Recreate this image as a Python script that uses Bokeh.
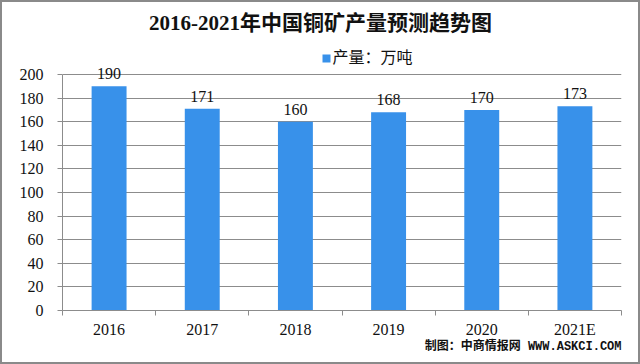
import numpy as np
from bokeh.plotting import figure
from bokeh.models import (ColumnDataSource, Range1d, FixedTicker, Title, Label, BoxAnnotation, LabelSet)
from bokeh.embed import file_html
from bokeh.resources import INLINE

years = ["2016", "2017", "2018", "2019", "2020", "2021E"]
output = [190, 171, 160, 168, 170, 173]
y_ticks = [0, 20, 40, 60, 80, 100, 120, 140, 160, 180, 200]

title_text = "2016-2021年中国铜矿产量预测趋势图"
legend_text = "产量：万吨"
source_text = "制图：中商情报网 WWW.ASKCI.COM"

BLUE = "#3891EA"
GRID = "#8c8c8c"
SERIF = "'Liberation Serif', 'Noto Sans CJK SC'"
CJK = "'Liberation Serif', 'Noto Sans CJK SC'"

W, H = 640, 364
# page coordinates of the plot area
PL, PR, PB, PT = 62, 621, 310, 74
YMAX = y_ticks[-1]
y_top = YMAX * PB / (PB - PT)           # frame reaches top of canvas


def sx(x):   # page x -> frame screen x
    return x - PL


def sy(y):   # page y -> frame screen y
    return PB - y


n = len(years)
xc = np.arange(n) + 0.5
src = ColumnDataSource(dict(x=xc, y=output, lab=[str(v) for v in output]))

p = figure(width=W, height=H, output_backend="svg", toolbar_location=None, title=None,
           x_range=Range1d(0, n), y_range=Range1d(0, y_top),
           min_border_left=PL, min_border_right=W - PR, min_border_top=0, min_border_bottom=H - PB)
p.outline_line_color = None
p.background_fill_alpha = 0
p.border_fill_alpha = 0
p.styles = {"outline": "2px solid #8a8a8a", "outline-offset": "-2px", "background-color": "white"}

r = p.vbar(x="x", top="y", width=0.375, source=src, color=BLUE, line_color=None)

p.add_layout(LabelSet(x="x", y="y", text="lab", source=src, text_align="center",
                      text_baseline="bottom", y_offset=7, text_font=SERIF,
                      text_font_size="16px", text_color="#111111"))

# axes
p.xaxis.ticker = FixedTicker(ticks=list(xc), minor_ticks=list(range(n + 1)))
p.xaxis.major_label_overrides = {float(c): y for c, y in zip(xc, years)}
p.xaxis.major_tick_in = 0
p.xaxis.major_tick_out = 0
p.xaxis.minor_tick_in = 0
p.xaxis.minor_tick_out = 5
p.xaxis.minor_tick_line_color = GRID
p.xaxis.axis_line_color = GRID
p.xaxis.major_label_text_font = SERIF
p.xaxis.major_label_text_font_size = "16px"
p.xaxis.major_label_text_color = "#111111"
p.xaxis.major_label_standoff = 5

p.yaxis.ticker = FixedTicker(ticks=y_ticks, minor_ticks=[])
p.yaxis.bounds = (0, YMAX)
p.yaxis.major_tick_in = 0
p.yaxis.major_tick_out = 5
p.yaxis.major_tick_line_color = GRID
p.yaxis.axis_line_color = GRID
p.yaxis.major_label_text_font = SERIF
p.yaxis.major_label_text_font_size = "16px"
p.yaxis.major_label_text_color = "#111111"
p.yaxis.major_label_standoff = 14

p.xgrid.grid_line_color = None
p.ygrid.grid_line_color = GRID
p.ygrid.grid_line_width = 1

# legend (swatch + text)
p.add_layout(BoxAnnotation(left=sx(322), right=sx(330), bottom=sy(62), top=sy(54),
                           left_units="screen", right_units="screen", top_units="screen",
                           bottom_units="screen", fill_color=BLUE, fill_alpha=1, line_color=None))
p.add_layout(Label(x=sx(332), y=sy(57), x_units="screen", y_units="screen", text=legend_text,
                   text_align="left", text_baseline="middle", text_font=CJK,
                   text_font_size="16px", text_color="#111111"))

p.add_layout(Label(x=sx(320), y=sy(22), x_units="screen", y_units="screen", text=title_text,
                   text_align="center", text_baseline="middle", text_font=CJK,
                   text_font_size="21px", text_font_style="bold", text_color="#111111"))

p.add_layout(Title(text=source_text, align="right", offset=0, standoff=-6,
                   text_font="'Liberation Mono', 'Noto Sans CJK SC'", text_font_size="12px",
                   text_font_style="bold", text_color="#111111"), "below")

open("out.html", "w").write(file_html(p, INLINE))
